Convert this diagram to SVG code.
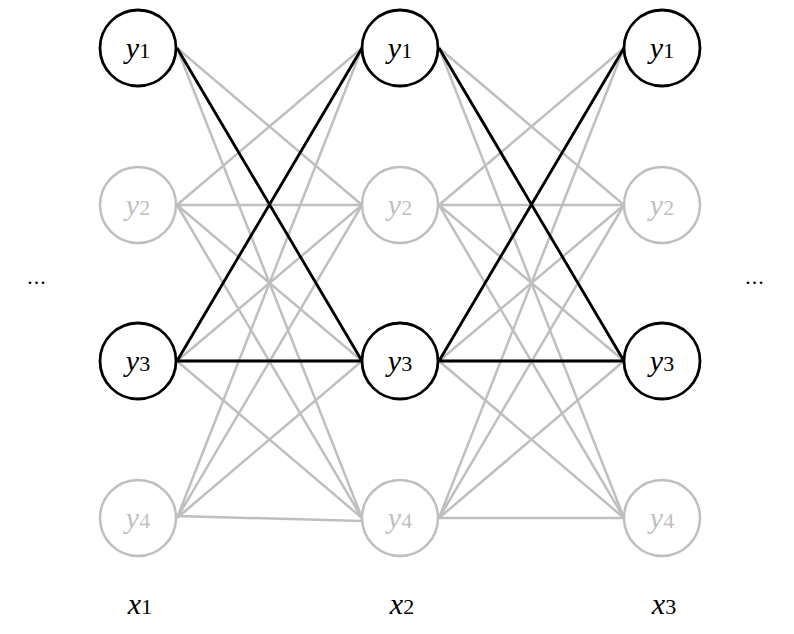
<svg xmlns="http://www.w3.org/2000/svg" width="794" height="634" viewBox="0 0 794 634">
<style>
.g{stroke:#bfbfbf;stroke-width:2.5;fill:none}
.k{stroke:#000;stroke-width:2.8;fill:none}
.nk{fill:#fff;stroke:#000;stroke-width:2.8}
.ng{fill:#fff;stroke:#bfbfbf;stroke-width:2.5}
text{font-family:"Liberation Serif","DejaVu Serif",serif;font-size:30px;text-anchor:middle}
.i{font-style:italic}
.s{font-size:22px;font-style:normal}
</style>
<rect width="794" height="634" fill="#fff"/>
<g id="connectors">
<g class="g">
<path d="M177 48L362 205M177 48L362 361M177 48L362 518"/>
<path d="M177 205L362 48M177 205L362 205M177 205L362 361M177 205L362 518"/>
<path d="M177 361L362 48M177 361L362 205M177 361L362 361M177 361L362 518"/>
<path d="M177 518L362 48M177 518L362 205M177 518L362 361M177 516L362 521"/>
<path d="M439 48L624 205M439 48L624 361M439 48L624 518"/>
<path d="M439 205L624 48M439 205L624 205M439 205L624 361M439 205L624 518"/>
<path d="M439 361L624 48M439 361L624 205M439 361L624 361M439 361L624 518"/>
<path d="M439 518L624 48M439 518L624 205M439 518L624 361M439 518L624 518"/>
</g>
<g class="k">
<path d="M177 48L362 361M177 361L362 48M177 361L362 361"/>
<path d="M439 48L624 361M439 361L624 48M439 361L624 361"/>
</g>
</g>
<g id="c1">
<g id="n11"><circle class="nk" cx="138" cy="48" r="38"/><text x="138" y="58"><tspan class="i">y</tspan><tspan class="s">1</tspan></text></g>
<g id="n12"><circle class="ng" cx="138" cy="205" r="38"/><text x="138" y="215" fill="#bfbfbf"><tspan class="i">y</tspan><tspan class="s">2</tspan></text></g>
<g id="n13"><circle class="nk" cx="138" cy="361" r="38"/><text x="138" y="371"><tspan class="i">y</tspan><tspan class="s">3</tspan></text></g>
<g id="n14"><circle class="ng" cx="138" cy="518" r="38"/><text x="138" y="528" fill="#bfbfbf"><tspan class="i">y</tspan><tspan class="s">4</tspan></text></g>
</g>
<g id="c2">
<g id="n21"><circle class="nk" cx="400" cy="48" r="38"/><text x="400" y="58"><tspan class="i">y</tspan><tspan class="s">1</tspan></text></g>
<g id="n22"><circle class="ng" cx="400" cy="205" r="38"/><text x="400" y="215" fill="#bfbfbf"><tspan class="i">y</tspan><tspan class="s">2</tspan></text></g>
<g id="n23"><circle class="nk" cx="400" cy="361" r="38"/><text x="400" y="371"><tspan class="i">y</tspan><tspan class="s">3</tspan></text></g>
<g id="n24"><circle class="ng" cx="400" cy="518" r="38"/><text x="400" y="528" fill="#bfbfbf"><tspan class="i">y</tspan><tspan class="s">4</tspan></text></g>
</g>
<g id="c3">
<g id="n31"><circle class="nk" cx="662" cy="48" r="38"/><text x="662" y="58"><tspan class="i">y</tspan><tspan class="s">1</tspan></text></g>
<g id="n32"><circle class="ng" cx="662" cy="205" r="38"/><text x="662" y="215" fill="#bfbfbf"><tspan class="i">y</tspan><tspan class="s">2</tspan></text></g>
<g id="n33"><circle class="nk" cx="662" cy="361" r="38"/><text x="662" y="371"><tspan class="i">y</tspan><tspan class="s">3</tspan></text></g>
<g id="n34"><circle class="ng" cx="662" cy="518" r="38"/><text x="662" y="528" fill="#bfbfbf"><tspan class="i">y</tspan><tspan class="s">4</tspan></text></g>
</g>
<text x="140" y="614"><tspan class="i">x</tspan><tspan class="s">1</tspan></text>
<text x="402" y="614"><tspan class="i">x</tspan><tspan class="s">2</tspan></text>
<text x="664" y="614"><tspan class="i">x</tspan><tspan class="s">3</tspan></text>
<text x="37" y="284" style="font-size:22px;letter-spacing:1px">...</text>
<text x="755" y="284" style="font-size:22px;letter-spacing:1px">...</text>
</svg>
